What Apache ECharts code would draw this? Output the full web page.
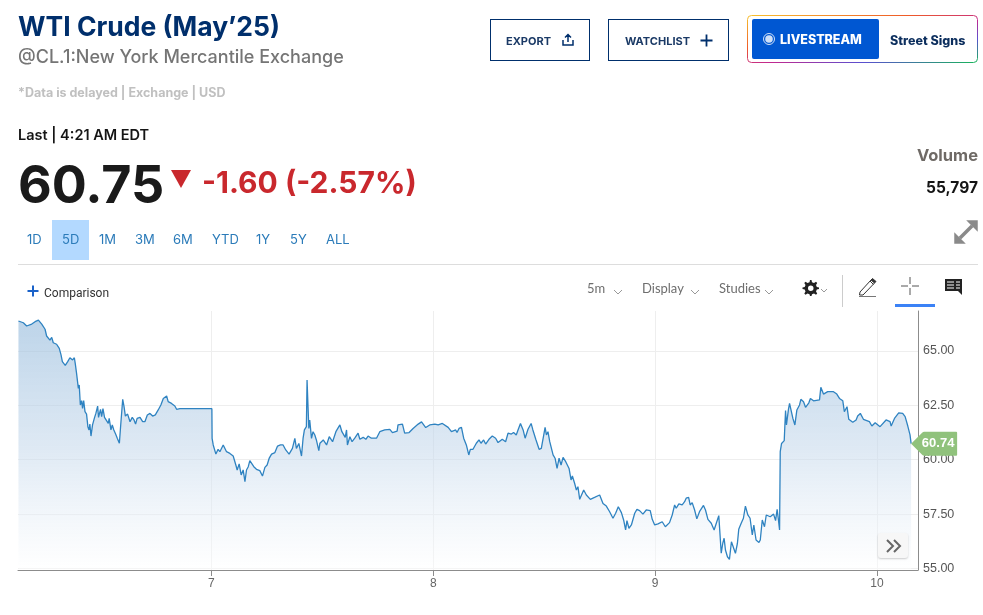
<!DOCTYPE html>
<html>
<head>
<meta charset="utf-8">
<script src="https://cdn.jsdelivr.net/npm/echarts@6/dist/echarts.min.js"></script>
<style>
html, body { margin: 0; padding: 0; background: #fff; width: 983px; height: 615px; overflow: hidden; font-family: "Open Sans", sans-serif; }
#chart { position: absolute; left: 0; top: 0; width: 983px; height: 615px; }
.t { position: absolute; white-space: nowrap; line-height: 1; }
.ic { position: absolute; }
.btn { position: absolute; box-sizing: border-box; border: 1.5px solid #002f6c; }
.tab { position: absolute; top: 233px; font: 400 13px Inter, sans-serif; color: #2b7bb9; line-height: 13px; }
.tool { position: absolute; top: 282px; font: 400 13px Lato, sans-serif; color: #6e6e6e; line-height: 13px; }
</style>
</head>
<body>
<div id="chart"></div>

<div class="t" style="left:18px;top:10px;font:700 26.5px Inter,sans-serif;color:#002f6c;">WTI Crude (May’25)</div>
<div class="t" style="left:18px;top:46px;font:500 18px Inter,sans-serif;color:#757575;">@CL.1:New York Mercantile Exchange</div>
<div class="t" style="left:18px;top:85px;font:700 12.5px Inter,sans-serif;color:#c0c0c0;">*Data is delayed | Exchange | USD</div>
<div class="t" style="left:18px;top:126px;font:600 14.5px Inter,sans-serif;color:#151515;">Last | 4:21 AM EDT</div>
<div class="t" style="left:18px;top:153px;font:700 52px Inter,sans-serif;color:#1a1a1a;">60.75</div>
<svg class="ic" style="left:170px;top:169px" width="22" height="20"><path d="M1,1 L21,1 L11,19 Z" fill="#c9282d"/></svg>
<div class="t" style="left:202px;top:164px;font:700 30px Inter,sans-serif;color:#c9282d;">-1.60 (-2.57%)</div>
<div class="t" style="right:5px;top:145px;font:700 16.5px Inter,sans-serif;color:#6f6a66;">Volume</div>
<div class="t" style="right:5px;top:178px;font:700 15.5px Inter,sans-serif;color:#151515;">55,797</div>

<!-- buttons -->
<div class="btn" style="left:490px;top:19px;width:100px;height:42px;"></div>
<div class="t" style="left:506px;top:34px;font:700 11px Inter,sans-serif;color:#1b3a66;">EXPORT</div>
<svg class="ic" style="left:561px;top:33px" width="14" height="14"><path d="M7,9 V2 M4,4.5 L7,1.5 L10,4.5 M2,7 V12 H12 V7" fill="none" stroke="#002f6c" stroke-width="1.5"/></svg>
<div class="btn" style="left:608px;top:19px;width:121px;height:42px;"></div>
<div class="t" style="left:625px;top:34px;font:700 11px Inter,sans-serif;color:#1b3a66;">WATCHLIST</div>
<svg class="ic" style="left:699px;top:33px" width="15" height="15"><path d="M7.5,1.5 V13.5 M1.5,7.5 H13.5" stroke="#002f6c" stroke-width="1.8"/></svg>
<svg class="ic" style="left:747px;top:15px" width="231" height="48">
<defs><linearGradient id="rb" x1="0" y1="0" x2="1" y2="1">
<stop offset="0" stop-color="#f7c12d"/><stop offset="0.35" stop-color="#ef5a28"/><stop offset="0.55" stop-color="#c2288f"/><stop offset="0.75" stop-color="#5a4fd0"/><stop offset="1" stop-color="#18b45a"/>
</linearGradient></defs>
<rect x="0.5" y="0.5" width="230" height="47" rx="4" fill="#fff" stroke="url(#rb)"/>
<rect x="5" y="4" width="127" height="40" rx="2" fill="#0057d2"/>
<circle cx="22" cy="24" r="5.5" fill="none" stroke="#cfe0f7" stroke-width="1"/><circle cx="22" cy="24" r="3.8" fill="#cfe0f7"/>
</svg>
<div class="t" style="left:780px;top:32px;font:800 12.5px Inter,sans-serif;color:#fff;">LIVESTREAM</div>
<div class="t" style="left:890px;top:33px;font:800 12.5px Inter,sans-serif;color:#0d2f5e;">Street Signs</div>

<!-- range tabs -->
<div style="position:absolute;left:52px;top:220px;width:37px;height:40px;background:#b3d9ff;"></div>
<div class="tab" style="left:27px;">1D</div>
<div class="tab" style="left:62px;">5D</div>
<div class="tab" style="left:99px;">1M</div>
<div class="tab" style="left:135px;">3M</div>
<div class="tab" style="left:173px;">6M</div>
<div class="tab" style="left:212px;">YTD</div>
<div class="tab" style="left:256px;">1Y</div>
<div class="tab" style="left:290px;">5Y</div>
<div class="tab" style="left:326px;">ALL</div>
<svg class="ic" style="left:953px;top:219px" width="26" height="26"><path d="M15,2 H24 V11 Z M2,24 V15 L11,24 Z M19,7 L7,19" fill="#8a8a8a" stroke="#8a8a8a" stroke-width="1.5"/><path d="M19,7 L7,19" stroke="#8a8a8a" stroke-width="3.5"/></svg>
<div style="position:absolute;left:18px;top:264px;width:960px;height:1px;background:#ddd;"></div>

<!-- chart toolbar -->
<svg class="ic" style="left:27px;top:285px" width="12" height="12"><path d="M6,0.5 V11.5 M0.5,6 H11.5" stroke="#1a62c9" stroke-width="2"/></svg>
<div class="t" style="left:44px;top:286px;font:400 12px Roboto,sans-serif;color:#333;">Comparison</div>
<div class="tool" style="left:587px;">5m</div>
<div class="tool" style="left:642px;">Display</div>
<div class="tool" style="left:719px;">Studies</div>
<svg class="ic" style="left:613px;top:287px" width="150" height="9" fill="none" stroke="#999" stroke-width="1"><path d="M1,3 L5,7 L9,3 M78,3 L82,7 L86,3 M153,3 L157,7 L161,3"/></svg>
<svg class="ic" style="left:764px;top:287px" width="10" height="9" fill="none" stroke="#999" stroke-width="1"><path d="M1,3 L5,7 L9,3"/></svg>
<svg class="ic" style="left:802px;top:279px" width="28" height="18"><path d="M8,1 L9.5,1 L10,3.2 L12,4 L14,2.8 L15.2,4 L14,6 L14.8,8 L17,8.5 L17,10 L14.8,10.5 L14,12.5 L15.2,14.5 L14,15.7 L12,14.5 L10,15.3 L9.5,17 L8,17 L7.5,15.3 L5.5,14.5 L3.5,15.7 L2.3,14.5 L3.5,12.5 L2.7,10.5 L0.5,10 L0.5,8.5 L2.7,8 L3.5,6 L2.3,4 L3.5,2.8 L5.5,4 L7.5,3.2 Z M8.75,6.5 A2.7,2.7 0 1 0 8.76,12 A2.7,2.7 0 1 0 8.75,6.5 Z" fill="#222" fill-rule="evenodd"/><path d="M19,10 L22,13 L25,10" fill="none" stroke="#999"/></svg>
<div style="position:absolute;left:842px;top:275px;width:1px;height:32px;background:#ccc;"></div>
<svg class="ic" style="left:858px;top:277px" width="20" height="20" fill="none" stroke="#333" stroke-width="1"><path d="M2,15 L13,3 L16.5,6 L5,18 L1.5,18 Z"/><path d="M12,4 L15.5,7.5" /><path d="M13,3 L14.5,1.5 L18,4.5 L16.5,6" fill="#333"/><path d="M1,19.5 H18" stroke="#777"/></svg>
<svg class="ic" style="left:901px;top:277px" width="18" height="18" stroke="#555" stroke-width="1"><path d="M9,0 V7 M9,11 V18 M0,9 H7 M11,9 H18"/></svg>
<div style="position:absolute;left:895px;top:304px;width:40px;height:3px;background:#3b82f6;"></div>
<svg class="ic" style="left:945px;top:279px" width="18" height="17"><path d="M0,0 H17 V12 L17,16 L13,12 H0 Z" fill="#222"/><path d="M2,3 H9 M2,6 H9 M2,9 H9 M11,3 H15 M11,6 H15 M11,9 H15" stroke="#fff" stroke-width="1"/></svg>

<!-- collapse button -->
<div style="position:absolute;left:878px;top:533px;width:30px;height:25px;background:#f7f7f7;border-radius:3px;box-shadow:0 1px 2px rgba(0,0,0,.2);"></div>
<svg class="ic" style="left:885px;top:538px" width="18" height="16" fill="none" stroke="#666" stroke-width="2"><path d="M2,2 L8,8 L2,14 M9,2 L15,8 L9,14"/></svg>

<script>
// values: [day of month, price]
var day6 = [[6.130,66.38],[6.152,66.30],[6.167,66.15],[6.190,66.24],[6.205,66.35],[6.220,66.42],[6.235,66.24],[6.250,66.00],[6.257,65.69],[6.272,65.50],[6.280,65.63],[6.287,65.38],[6.302,65.31],[6.314,65.12],[6.322,64.82],[6.328,64.51],[6.332,64.59],[6.341,64.34],[6.352,64.51],[6.362,64.69],[6.374,64.59],[6.382,64.69],[6.386,64.43],[6.392,63.97],[6.400,63.28],[6.404,63.44],[6.409,62.52],[6.415,62.72],[6.419,62.36],[6.424,62.72],[6.430,62.21],[6.437,62.10],[6.443,61.52],[6.448,61.37],[6.452,61.64],[6.457,61.09],[6.464,61.60],[6.472,61.90],[6.479,62.13],[6.487,62.47],[6.491,61.95],[6.500,62.32],[6.505,61.98],[6.511,62.35],[6.518,61.95],[6.527,61.95],[6.535,61.67],[6.539,61.90],[6.547,61.37],[6.553,61.60],[6.560,61.37],[6.568,61.18],[6.576,60.98],[6.585,60.76],[6.591,61.60],[6.600,62.78],[6.606,62.44],[6.612,62.01],[6.622,62.10],[6.633,61.75],[6.643,61.95],[6.651,61.83],[6.658,61.64],[6.665,61.90],[6.678,61.95],[6.690,61.75],[6.700,61.75],[6.711,62.06],[6.723,62.13],[6.735,62.01],[6.747,62.06],[6.760,62.29],[6.772,62.52],[6.783,62.82],[6.798,62.93],[6.805,62.67],[6.820,62.59],[6.835,62.47],[6.843,62.32],[6.858,62.35],[7.002,62.35]];
var day7 = [[7.003,60.98],[7.008,60.68],[7.020,60.26],[7.030,60.48],[7.038,60.37],[7.053,60.68],[7.068,60.37],[7.083,60.29],[7.098,60.17],[7.110,59.76],[7.116,59.53],[7.125,59.81],[7.134,59.30],[7.143,59.53],[7.151,58.99],[7.158,59.53],[7.166,59.68],[7.173,59.96],[7.181,59.96],[7.191,59.68],[7.203,59.56],[7.218,59.50],[7.230,59.25],[7.241,59.65],[7.251,59.76],[7.260,60.06],[7.271,60.26],[7.286,60.33],[7.298,60.63],[7.311,60.68],[7.323,60.68],[7.335,60.45],[7.350,60.26],[7.365,60.52],[7.376,60.98],[7.383,60.52],[7.394,60.75],[7.406,60.17],[7.413,60.98],[7.419,61.37],[7.428,61.52],[7.431,63.67],[7.434,63.67],[7.439,61.44],[7.443,61.83],[7.451,60.98],[7.458,61.29],[7.466,61.14],[7.473,60.91],[7.484,60.42],[7.489,60.76],[7.504,60.91],[7.519,60.68],[7.531,61.06],[7.546,60.83],[7.561,61.29],[7.579,61.60],[7.588,61.29],[7.597,61.37],[7.603,61.03],[7.609,61.37],[7.613,60.68],[7.624,61.06],[7.634,60.83],[7.646,60.99],[7.661,61.22],[7.669,60.94],[7.684,61.03],[7.696,60.94],[7.706,61.09],[7.721,60.99],[7.744,60.99],[7.759,61.29],[7.781,61.37],[7.804,61.40],[7.816,61.25],[7.837,61.32],[7.841,61.60],[7.861,61.64],[7.871,61.22],[7.891,61.25],[7.909,61.44],[7.932,61.64],[7.947,61.74],[7.966,61.48],[7.984,61.60]];
var day8 = [[8.007,61.64],[8.022,61.60],[8.041,61.67],[8.067,61.49],[8.082,61.29],[8.101,61.37],[8.107,61.25],[8.116,61.44],[8.127,61.49],[8.137,60.99],[8.149,60.68],[8.160,60.22],[8.167,60.48],[8.179,60.48],[8.194,60.76],[8.206,60.91],[8.215,60.76],[8.227,60.91],[8.236,60.72],[8.251,60.94],[8.266,61.09],[8.281,60.99],[8.292,60.79],[8.311,60.94],[8.326,60.83],[8.337,61.22],[8.352,61.18],[8.362,61.25],[8.374,61.14],[8.382,61.37],[8.393,61.67],[8.405,61.37],[8.414,60.99],[8.427,61.40],[8.441,61.67],[8.449,61.37],[8.462,60.94],[8.477,60.48],[8.487,60.52],[8.498,61.14],[8.504,61.49],[8.510,61.14],[8.517,61.29],[8.525,60.83],[8.540,60.22],[8.549,60.07],[8.558,59.60],[8.567,60.07],[8.576,59.76],[8.585,60.11],[8.597,59.91],[8.612,59.60],[8.621,59.07],[8.627,59.25],[8.637,58.92],[8.645,58.61],[8.652,58.76],[8.660,58.18],[8.667,58.23],[8.678,58.61],[8.690,58.38],[8.708,58.18],[8.727,58.27],[8.750,58.38],[8.765,57.99],[8.780,57.87],[8.795,57.61],[8.810,57.31],[8.822,57.54],[8.834,57.84],[8.848,57.57],[8.858,57.23],[8.867,56.77],[8.873,57.20],[8.882,56.85],[8.893,57.00],[8.908,57.54],[8.918,57.72],[8.930,57.66],[8.945,57.50],[8.960,57.69],[8.978,57.66],[8.987,57.26],[8.998,57.00]];
var day9 = [[9.013,57.05],[9.032,57.15],[9.046,56.92],[9.065,57.11],[9.077,57.46],[9.088,57.92],[9.095,57.77],[9.107,57.97],[9.122,57.92],[9.133,58.07],[9.140,58.23],[9.151,58.27],[9.158,57.92],[9.167,58.03],[9.178,57.69],[9.188,57.28],[9.200,57.61],[9.218,57.90],[9.227,57.69],[9.238,57.26],[9.253,57.08],[9.266,56.77],[9.278,57.15],[9.287,57.43],[9.296,57.43],[9.298,55.70],[9.305,56.16],[9.311,56.39],[9.317,55.85],[9.326,55.54],[9.335,55.42],[9.344,56.23],[9.353,56.16],[9.362,55.70],[9.371,56.16],[9.377,56.80],[9.388,57.08],[9.398,57.31],[9.407,57.87],[9.418,57.46],[9.428,57.31],[9.438,56.54],[9.445,57.00],[9.455,56.31],[9.468,56.20],[9.474,56.31],[9.483,57.23],[9.493,56.92],[9.501,57.46],[9.519,57.38],[9.534,57.50],[9.543,57.20],[9.550,57.72],[9.555,57.31],[9.561,56.77],[9.564,60.37],[9.570,60.75],[9.582,60.88],[9.585,61.60],[9.588,62.26],[9.592,61.60],[9.601,62.32],[9.606,62.59],[9.615,62.59],[9.621,61.90],[9.630,61.60],[9.639,62.29],[9.651,62.52],[9.657,62.78],[9.669,62.67],[9.678,62.41],[9.693,62.62],[9.700,62.82],[9.714,62.71],[9.741,62.75],[9.747,63.33],[9.759,63.02],[9.778,63.13],[9.804,63.13],[9.819,63.02],[9.831,62.82],[9.846,62.71],[9.853,62.21],[9.865,62.44],[9.873,61.86],[9.891,61.72],[9.906,61.83],[9.913,62.01],[9.925,62.13],[9.939,61.86],[9.966,61.75],[9.977,61.55],[9.992,61.70]];
var day10 = [[10.014,61.52],[10.041,61.83],[10.059,61.75],[10.064,61.55],[10.079,61.90],[10.098,62.16],[10.116,62.13],[10.127,61.98],[10.139,61.55],[10.149,61.14],[10.154,60.74]];
var dayTicks = [7, 8, 9, 10];
var priceTicks = [55, 57.5, 60, 62.5, 65];
var lastQuote = [10.154, 60.74];

var priceData = day6.concat(day7, day8, day9, day10);

var chart = echarts.init(document.getElementById("chart"));
var option = {
    animation: false,
    grid: { left: 18, right: 65, top: 311, bottom: 45 },
    xAxis: {
        type: 'value',
        min: 6.128,
        max: 10.185,
        axisLine: { onZero: false, lineStyle: { color: '#8c8c8c', width: 1 } },
        axisTick: { length: 6, lineStyle: { color: '#8c8c8c' }, customValues: dayTicks },
        axisLabel: { customValues: dayTicks, color: '#666', fontFamily: 'Liberation Sans', fontSize: 12, margin: 8 },
        splitLine: { show: true, lineStyle: { color: '#eeeeee' } }
    },
    yAxis: {
        type: 'value',
        position: 'right',
        min: 54.93,
        max: 66.84,
        axisLine: { show: true, lineStyle: { color: '#8c8c8c', width: 1 } },
        axisTick: { show: false, customValues: priceTicks },
        axisLabel: {
            customValues: priceTicks,
            color: '#555',
            fontFamily: 'Liberation Sans',
            fontSize: 12.5,
            margin: 5,
            formatter: function (v) { return v.toFixed(2); }
        },
        splitLine: { show: true, lineStyle: { color: '#eeeeee' } }
    },
    series: [{
        type: 'line',
        data: priceData,
        symbol: 'none',
        lineStyle: { color: '#2f83c1', width: 1.3 },
        areaStyle: {
            color: new echarts.graphic.LinearGradient(0, 0, 0, 1, [
                { offset: 0, color: 'rgba(150,187,220,0.9)' },
                { offset: 0.5, color: 'rgba(195,215,235,0.8)' },
                { offset: 1, color: 'rgba(255,255,255,0.6)' }
            ])
        },
        markPoint: {
            silent: true,
            symbol: 'path://M0,12 L11,1 Q12,0 13,0 L45,0 Q46,0 46,1 L46,23 Q46,24 45,24 L13,24 Q12,24 11,23 Z',
            symbolSize: [46, 24],
            symbolOffset: [23, 0],
            itemStyle: { color: '#90c27c' },
            label: {
                show: true,
                color: '#fff',
                fontFamily: 'Liberation Sans',
                fontWeight: 'bold',
                fontSize: 13,
                offset: [4, 0],
                formatter: function (p) { return p.value.toFixed(2); }
            },
            data: [{ coord: lastQuote, value: lastQuote[1] }]
        }
    }]
};
chart.setOption(option, true);
</script>
</body>
</html>
